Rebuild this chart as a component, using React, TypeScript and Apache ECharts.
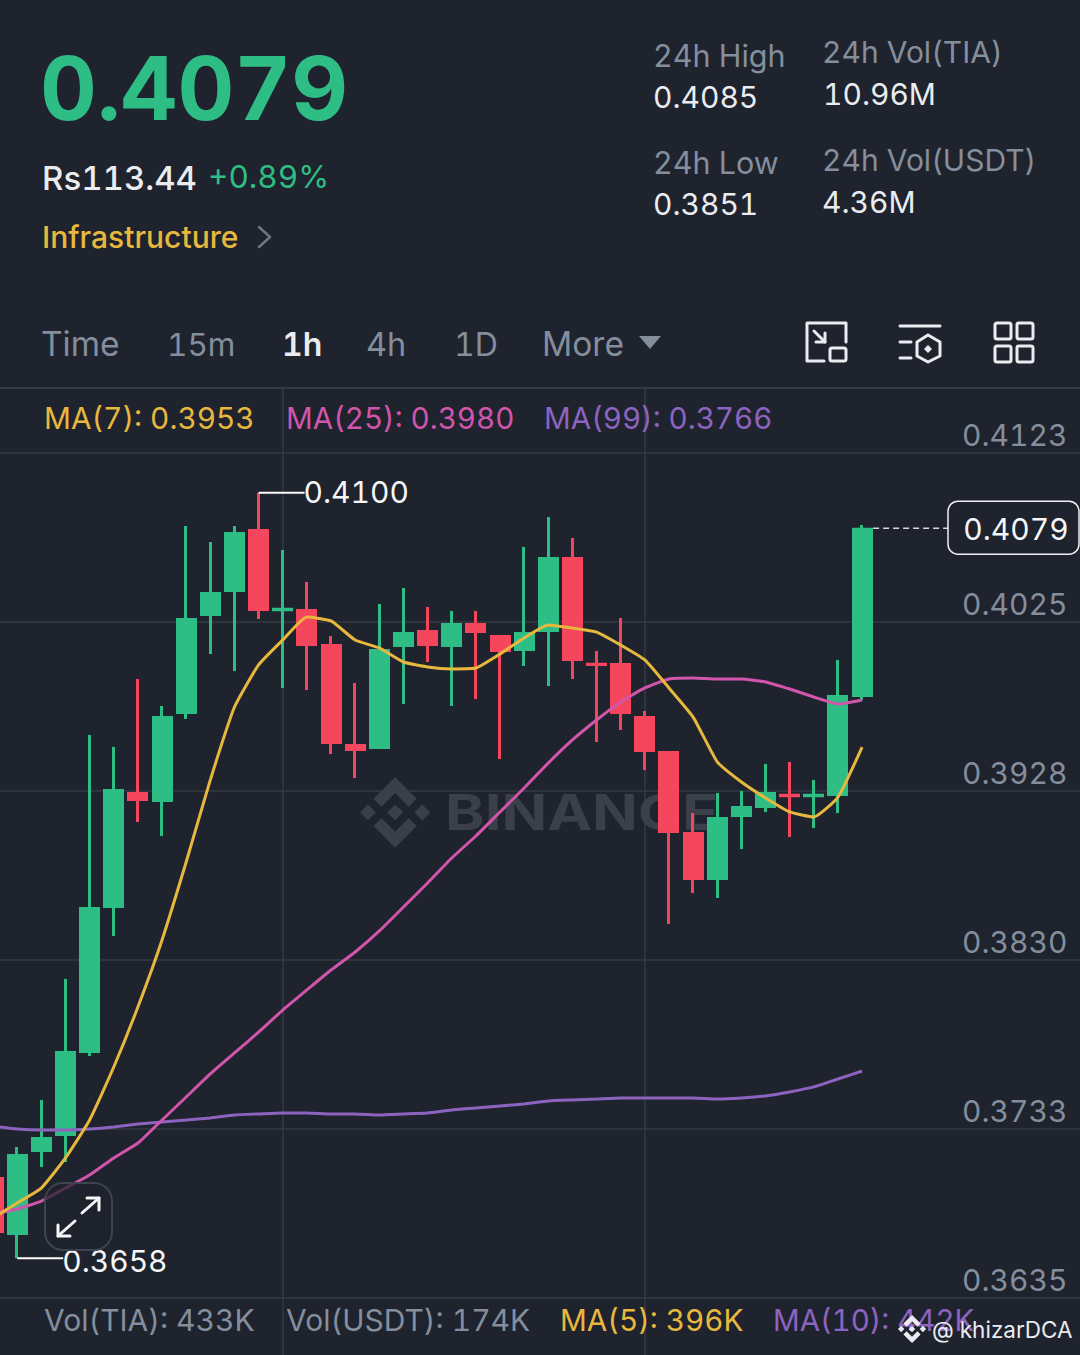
import React, { useEffect, useRef } from "react";
import * as echarts from "echarts";

const BG = "#1e232e";
const GREEN = "#2ebd85";
const RED = "#f6465d";
const GRAY = "#848e9c";
const WHITE = "#eaecef";
const YELLOW = "#e8b83e";
const PINK = "#d055ab";
const PURPLE = "#8c63be";
const GRIDLINE = "#353b45";
const FONT = "Inter";
const SHIFT = 19;

const categories = Array.from({ length: 46 }, (_, i) => `${i}`);

const opens = [0.3704,0.36723,0.37202,0.37294,0.37774,0.38611,0.39264,0.39223,0.39731,0.40297,0.40436,0.40782,0.40325,0.4032,0.40118,0.39541,0.39529,0.40118,0.40199,0.40118,0.4024,0.4017,0.40095,0.40205,0.40621,0.4001,0.40009,0.39703,0.395,0.39033,0.38773,0.39137,0.39189,0.39253,0.39251,0.39258,0.3983];
const closes = [0.36734,0.37173,0.37271,0.37768,0.386,0.39281,0.39229,0.39703,0.40268,0.40419,0.40765,0.40326,0.40327,0.40124,0.39558,0.39518,0.40089,0.40188,0.40124,0.4024,0.40199,0.40089,0.40188,0.40621,0.40037,0.40008,0.39731,0.39512,0.39044,0.38773,0.39119,0.39183,0.39264,0.39251,0.39253,0.39824,0.4079];
const lows = [0.36685,0.3658,0.37107,0.37136,0.37748,0.38441,0.39099,0.39018,0.39694,0.40069,0.39971,0.40271,0.39873,0.39861,0.39492,0.39353,0.39521,0.39781,0.40023,0.39769,0.39809,0.39463,0.4,0.39884,0.39925,0.39561,0.3963,0.39399,0.3851,0.38689,0.3866,0.38943,0.39157,0.39012,0.39064,0.39151,0.39804];
const highs = [0.37089,0.37222,0.37494,0.38192,0.39601,0.39532,0.39925,0.39769,0.40808,0.40716,0.40808,0.41,0.4067,0.40485,0.40173,0.39902,0.40358,0.4045,0.40341,0.40318,0.40318,0.40175,0.40687,0.4086,0.40739,0.40087,0.40277,0.3974,0.39509,0.39151,0.39267,0.39278,0.39434,0.39446,0.39342,0.40035,0.40814];

const ma7 = [0.36812,0.36899,0.36985,0.37159,0.37378,0.37684,0.38031,0.38418,0.38868,0.39342,0.39763,0.40006,0.4015,0.40283,0.4026,0.4015,0.40104,0.40023,0.39994,0.39983,0.39988,0.40069,0.40162,0.40237,0.40219,0.40196,0.40121,0.40035,0.39873,0.39705,0.39446,0.3933,0.39238,0.39157,0.39128,0.39243,0.39532];
const ma25 = [0.36835,0.36864,0.3691,0.36985,0.3706,0.37159,0.37245,0.37378,0.37511,0.37644,0.37765,0.37886,0.38013,0.38129,0.38244,0.38348,0.3847,0.38608,0.38747,0.38891,0.39018,0.39157,0.39295,0.3944,0.39573,0.39688,0.39792,0.39873,0.39925,0.39931,0.39925,0.39925,0.39908,0.39867,0.39821,0.39781,0.39804];
const ma99 = [0.37343,0.37326,0.3732,0.3732,0.37326,0.37338,0.37355,0.37367,0.37378,0.3739,0.37407,0.37413,0.37419,0.37419,0.37413,0.37413,0.37407,0.37413,0.37419,0.37436,0.37447,0.37459,0.37471,0.37488,0.37494,0.37499,0.37505,0.37505,0.37505,0.37505,0.37499,0.37505,0.37517,0.3754,0.37569,0.37615,0.37661];

const yTicks = [0.3635, 0.37326, 0.38302, 0.39278, 0.40254, 0.4123];
const verticalLineCandles = [12, 27];
const extremes = [
  { index: 11, price: 0.41, label: "0.4100" },
  { index: 1, price: 0.3658, label: "0.3658" },
];
const extremeLabelDy = [-1, 3];
const lastPrice = { index: 36, price: 0.4079, label: "0.4079" };

const LOGO = "M16.624 13.9202l2.7175 2.7154-7.353 7.353-7.353-7.352 2.7175-2.7164 4.6355 4.6595 4.6356-4.6595zm4.6366-4.6366L24 12l-2.7154 2.7164L18.5682 12l2.6924-2.7164zm-9.272.001l2.7163 2.6914-2.7164 2.7174v-.001L9.2721 12l2.7164-2.7154zm-9.2722-.001L5.4088 12l-2.6914 2.6924L0 12l2.7164-2.7164zM11.9885.0115l7.353 7.329-2.7174 2.7154-4.6356-4.6356-4.6355 4.6595-2.7174-2.7154 7.353-7.353z";

const txt = (text: string, x: number, y: number, fill: string, fontSize: number, fontWeight = 400, align = "left", z = 5) => ({
  type: "text",
  x,
  y,
  z,
  style: { text, fill, fontSize, fontWeight, fontFamily: FONT, align, verticalAlign: "middle" },
});

const stroke = (color: string, w: number) => ({ stroke: color, lineWidth: w, fill: "none", lineCap: "round", lineJoin: "round" });
const poly = (pts: number[][], color = WHITE, w = 3, z = 5) => ({ type: "polyline", z, shape: { points: pts }, style: stroke(color, w) });
const box = (x: number, y: number, width: number, height: number, r = 2, z = 5) => ({ type: "rect", z, shape: { x, y, width, height, r }, style: stroke(WHITE, 3) });

const headerTexts = [
  txt("0.4079", 40, 88, GREEN, 88, 700),
  txt("Rs113.44", 42, 178, WHITE, 33, 500),
  txt("+0.89%", 208, 176, GREEN, 31.5),
  txt("Infrastructure", 42, 237, YELLOW, 30, 500),
  txt("24h High", 653, 55, GRAY, 30.5),
  txt("0.4085", 653, 97, WHITE, 30),
  txt("24h Low", 653, 162, GRAY, 30.5),
  txt("0.3851", 653, 204, WHITE, 30),
  txt("24h Vol(TIA)", 822, 52, GRAY, 30),
  txt("10.96M", 823, 94, WHITE, 30),
  txt("24h Vol(USDT)", 822, 160, GRAY, 30),
  txt("4.36M", 822, 202, WHITE, 30),
  txt("Time", 41, 344, GRAY, 33.5),
  txt("15m", 167, 344, GRAY, 31.5),
  txt("1h", 282, 344, WHITE, 32, 600),
  txt("4h", 366, 344, GRAY, 32.5),
  txt("1D", 454, 344, GRAY, 32),
  txt("More", 542, 344, GRAY, 33.5),
  txt("MA(7): 0.3953", 44, 418, YELLOW, 29.8),
  txt("MA(25): 0.3980", 286, 418, PINK, 29.6),
  txt("MA(99): 0.3766", 544, 418, PURPLE, 29.6),
  txt("Vol(TIA): 433K", 44, 1320, GRAY, 30),
  txt("Vol(USDT): 174K", 286, 1320, GRAY, 30),
  txt("MA(5): 396K", 560, 1320, YELLOW, 29.7),
  txt("MA(10): 442K", 773, 1320, PURPLE, 29.5),
  txt("@ khizarDCA", 932, 1329, WHITE, 22.5, 400, "left", 100),
];

export default function App() {
  const ref = useRef<HTMLDivElement>(null);
  useEffect(() => {
    echarts.graphic.registerShape("logo", echarts.graphic.extendPath(LOGO as any, {}) as any);
    const chart = echarts.init(ref.current!, undefined, { renderer: "svg" });
    const renderExtreme = (params: any, api: any) => {
      const item = extremes[params.dataIndex];
      const [x, y] = api.coord([api.value(0), api.value(1)]);
      return {
        type: "group",
        children: [
          { type: "polyline", shape: { points: [[x, y], [x + 46, y]] }, style: { stroke: "#ffffff", lineWidth: 2, fill: "none" } },
          { type: "text", x: x + 45, y: y + extremeLabelDy[params.dataIndex], style: { text: item.label, fill: "#f5f6f7", fontSize: 30, fontFamily: FONT, align: "left", verticalAlign: "middle" } },
        ],
      };
    };
    const renderLast = (_: any, api: any) => {
      const [x, y] = api.coord([api.value(0), api.value(1)]);
      return {
        type: "group",
        children: [
          { type: "line", shape: { x1: x + 11, y1: y - 1, x2: 948 + SHIFT, y2: y - 1 }, style: { stroke: "#d5d8dc", lineWidth: 1.5, lineDash: [6, 4] } },
          { type: "rect", shape: { x: 948 + SHIFT, y: y - 28, width: 131, height: 53, r: 10 }, style: { fill: BG, stroke: "#f0f1f2", lineWidth: 1.5 } },
          { type: "text", x: 1016 + SHIFT, y: y - 0.5, style: { text: lastPrice.label, fill: "#f5f6f7", fontSize: 30, fontFamily: FONT, align: "center", verticalAlign: "middle" } },
        ],
      };
    };
    chart.setOption({
      animation: false,
      backgroundColor: BG,
      grid: { left: 0, top: 388, width: 1110.44, height: 967 },
      xAxis: {
        type: "category",
        data: categories,
        axisLine: { show: false },
        axisTick: { show: false },
        axisLabel: { show: false },
        splitLine: { show: false },
      },
      yAxis: {
        type: "value",
        position: "right",
        min: 0.360208,
        max: 0.416054,
        axisLine: { show: false },
        axisTick: { show: false, customValues: yTicks },
        splitLine: { show: true, lineStyle: { color: GRIDLINE, width: 1.5 } },
        axisLabel: {
          inside: true,
          margin: 24,
          customValues: yTicks,
          color: GRAY,
          fontSize: 30,
          fontFamily: FONT,
          verticalAlign: "bottom",
          padding: [0, 0, 3, 0],
          formatter: (v: number) => v.toFixed(4),
        },
      },
      series: [
        {
          type: "candlestick",
          barWidth: 18.5,
          itemStyle: { color: GREEN, color0: RED, borderColor: GREEN, borderColor0: RED, borderWidth: 3 },
          data: opens.map((o, i) => [o, closes[i], lows[i], highs[i]]),
          markLine: {
            silent: true,
            symbol: "none",
            label: { show: false },
            lineStyle: { color: GRIDLINE, width: 1.5, type: "solid" },
            data: verticalLineCandles.map((c) => ({ xAxis: c })),
            z: 0,
          },
        },
        { type: "line", name: "MA(99)", data: ma99, smooth: 0.15, showSymbol: false, lineStyle: { color: PURPLE, width: 3 } },
        { type: "line", name: "MA(25)", data: ma25, smooth: 0.15, showSymbol: false, lineStyle: { color: PINK, width: 3 } },
        { type: "line", name: "MA(7)", data: ma7, smooth: 0.15, showSymbol: false, lineStyle: { color: YELLOW, width: 3 } },
        { type: "custom", renderItem: renderExtreme, data: extremes.map((e) => [e.index, e.price]), encode: { x: 0, y: 1 }, clip: false, z: 6 },
        { type: "custom", renderItem: renderLast, data: [[lastPrice.index, lastPrice.price]], encode: { x: 0, y: 1 }, clip: false, z: 6 },
      ],
      graphic: [
        {
          type: "group",
          x: SHIFT,
          y: 0,
          children: [
            ...headerTexts,
            { type: "line", z: 1, shape: { x1: -SHIFT, y1: 388, x2: 1080, y2: 388 }, style: { stroke: GRIDLINE, lineWidth: 2 } },
            poly([[259, 227], [270, 237], [259, 247]], "#6f7681", 2.5),
            { type: "polygon", z: 5, shape: { points: [[639, 336], [661, 336], [650, 349]] }, style: { fill: GRAY } },
            poly([[824, 361], [807, 361], [807, 323], [846, 323], [846, 342]]),
            box(830, 348, 16, 13),
            poly([[814, 331], [825, 342]]),
            poly([[816, 342], [825, 342], [825, 333]]),
            poly([[900, 326], [940, 326]]),
            poly([[900, 342], [911, 342]]),
            poly([[900, 358], [911, 358]]),
            poly([[928, 335], [940, 342], [940, 356], [928, 362], [917, 356], [917, 342], [928, 335]]),
            { type: "polygon", z: 5, shape: { points: [[928, 345], [932, 349], [928, 353], [924, 349]] }, style: { fill: WHITE } },
            box(995, 323, 16, 16),
            box(1017, 323, 16, 16),
            box(995, 346, 16, 16),
            box(1017, 346, 16, 16),
            { type: "logo", x: 360, y: 777, scaleX: 2.93, scaleY: 2.95, z: 1, style: { fill: "#3a3f4a" } },
            { type: "text", x: 445, y: 812, scaleX: 1.2, z: 1, style: { text: "BINANCE", fill: "#3a3f4a", fontSize: 50, fontWeight: 700, fontFamily: FONT, align: "left", verticalAlign: "middle" } },
            { type: "rect", z: 50, shape: { x: 45, y: 1183, width: 67, height: 67, r: 18 }, style: { fill: "rgba(30,35,46,0.72)", stroke: "#3e444f", lineWidth: 2 } },
            poly([[82, 1213], [99, 1198]], "#f5f6f7", 3, 51),
            poly([[87, 1198], [99, 1198], [99, 1210]], "#f5f6f7", 3, 51),
            poly([[75, 1221], [58, 1236]], "#f5f6f7", 3, 51),
            poly([[58, 1225], [58, 1236], [70, 1236]], "#f5f6f7", 3, 51),
            { type: "logo", x: 898, y: 1315, scaleX: 1.17, scaleY: 1.17, z: 100, style: { fill: WHITE } },
          ],
        },
      ],
    });
    return () => chart.dispose();
  }, []);
  return (
    <div style={{ position: "fixed", left: 0, top: 0, width: 1080, height: 1355, overflow: "hidden", background: BG }}>
      <style>{`svg text { font-feature-settings: "tnum" 1; }`}</style>
      <div ref={ref} style={{ position: "absolute", left: -SHIFT, top: 0, width: 1111, height: 1355 }} />
    </div>
  );
}
